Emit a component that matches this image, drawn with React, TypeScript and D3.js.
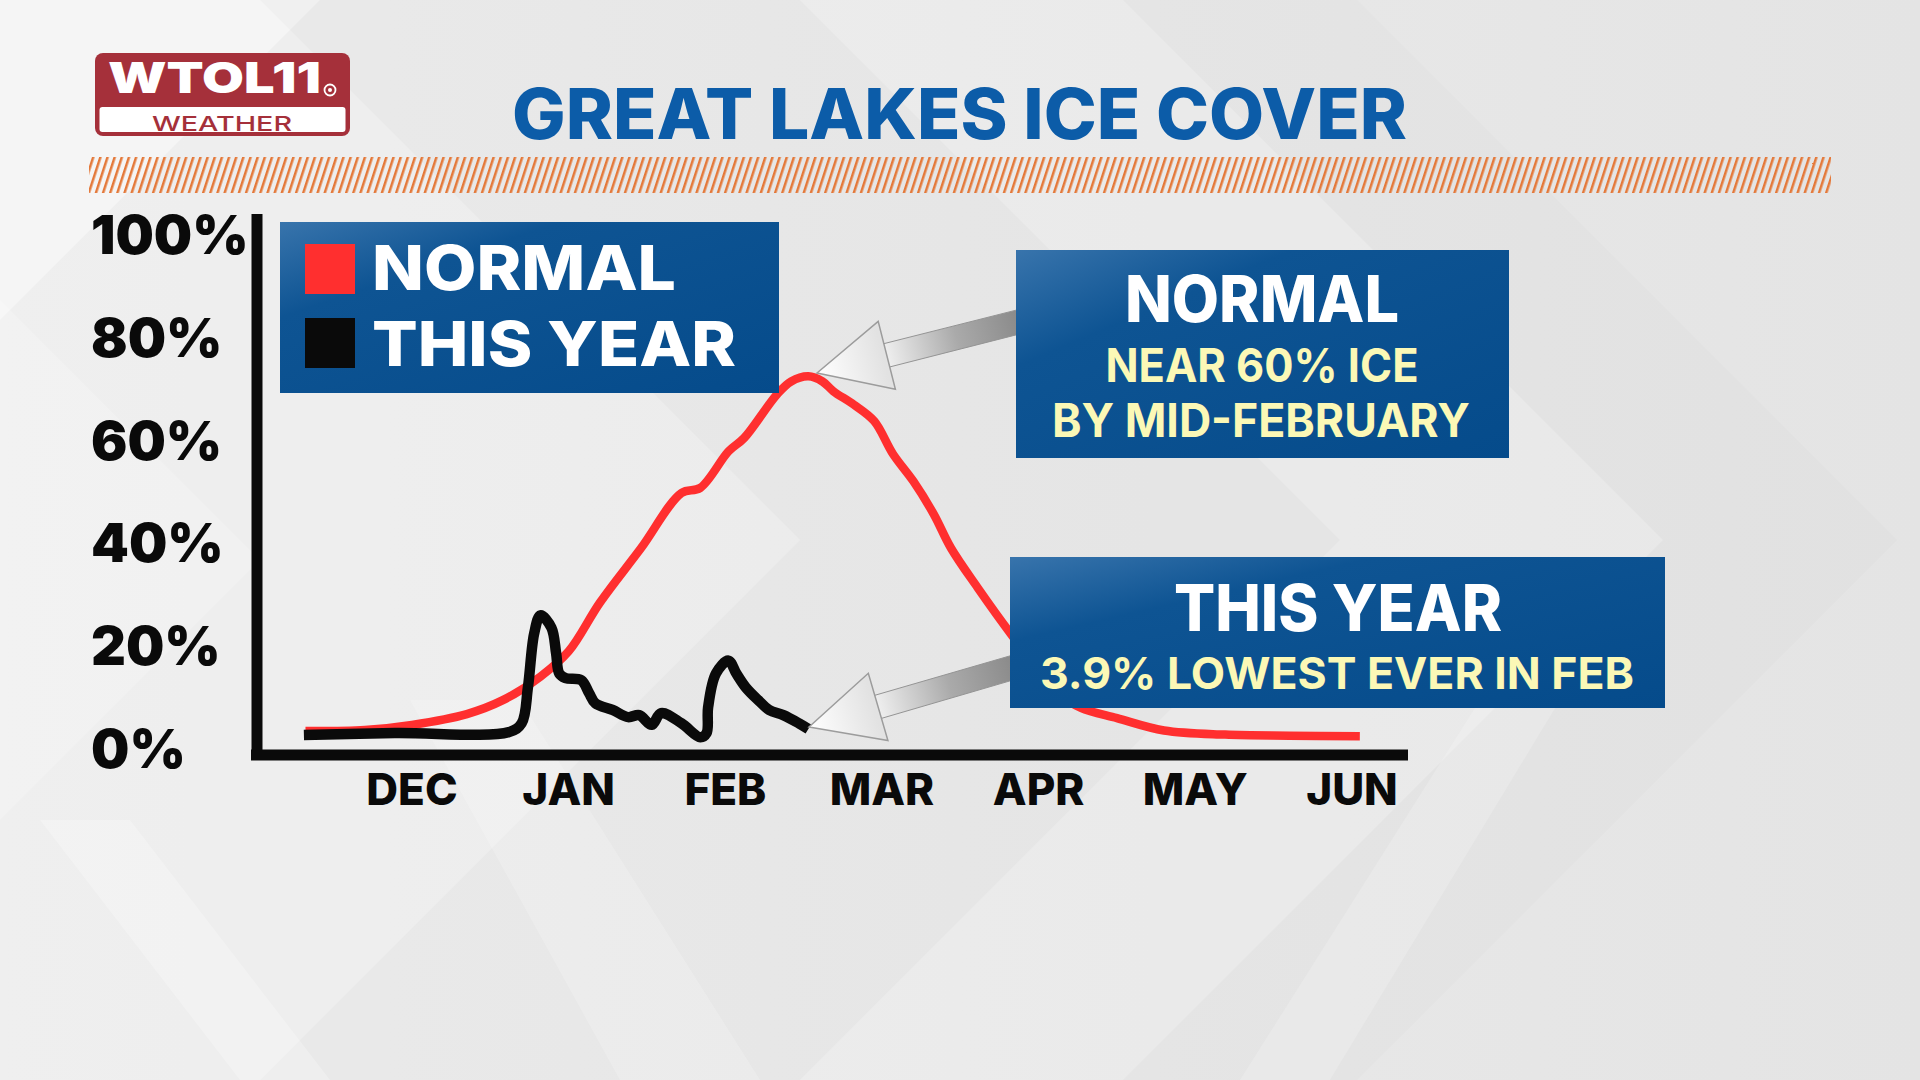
import React from "react";
import * as d3 from "d3";

// Month labels along the bottom (index 0 = DEC)
const MONTHS = ["DEC", "JAN", "FEB", "MAR", "APR", "MAY", "JUN"];
// Percent ticks on the left
const Y_TICKS = [0, 20, 40, 60, 80, 100];

// Normal ice cover: time in months from DEC, percent cover
const NORMAL_T = [-0.68, -0.3, 0, 0.35, 0.58, 0.82, 1.0, 1.2, 1.46, 1.72, 1.84, 2.02, 2.12, 2.33, 2.42, 2.53, 2.62, 2.69, 2.82, 2.95, 3.07, 3.2, 3.33, 3.44, 3.61, 3.82, 4.0, 4.14, 4.27, 4.5, 4.8, 5.19, 5.6, 6.05];
const NORMAL_PCT = [3.5, 3.7, 4.7, 6.8, 9.5, 14.1, 19, 28.5, 39, 49.8, 50.8, 57.9, 60.5, 69, 71.5, 72.5, 71.5, 69.6, 67, 63.8, 57.4, 52.1, 45.7, 39.1, 31.4, 22.5, 15.5, 10.5, 8, 6.0, 3.6, 2.8, 2.6, 2.5];

// This year's ice cover
const THIS_YEAR_T = [-0.69, -0.11, 0.62, 0.7, 0.74, 0.78, 0.82, 0.89, 0.92, 0.94, 0.98, 1.08, 1.13, 1.17, 1.28, 1.38, 1.45, 1.53, 1.59, 1.72, 1.84, 1.88, 1.89, 1.94, 2.02, 2.07, 2.13, 2.21, 2.28, 2.37, 2.47, 2.53];
const THIS_YEAR_PCT = [2.7, 3.1, 3.3, 5.0, 12.0, 22.5, 26.0, 23.6, 18.6, 14.7, 13.8, 13.4, 10.9, 8.9, 7.6, 6.2, 6.6, 4.7, 7.0, 5.0, 2.3, 3.1, 8.1, 14.7, 17.2, 14.7, 12.0, 9.5, 7.6, 6.6, 5.0, 3.9];

const LEGEND = [
  { label: "NORMAL", color: "#ff2f2f" },
  { label: "THIS YEAR", color: "#0a0a0a" },
];

const FONT = "Inter, 'Open Sans', sans-serif";

const x = d3.scaleLinear().domain([0, 6]).range([412, 1352]);
const y = d3.scaleLinear().domain([0, 100]).range([749, 235]);

const normal = NORMAL_T.map((t, i) => ({ t, v: NORMAL_PCT[i] }));
const thisYear = THIS_YEAR_T.map((t, i) => ({ t, v: THIS_YEAR_PCT[i] }));

const line = d3
  .line<{ t: number; v: number }>()
  .x((d) => x(d.t))
  .y((d) => y(d.v))
  .curve(d3.curveCatmullRom.alpha(0.5));

type Pt = [number, number];

function arrowParts(tip: Pt, tail: Pt, headLen: number, headHalf: number, shaftHalf: number) {
  const dx = tail[0] - tip[0];
  const dy = tail[1] - tip[1];
  const len = Math.hypot(dx, dy);
  const u: Pt = [dx / len, dy / len];
  const n: Pt = [-u[1], u[0]];
  const base: Pt = [tip[0] + u[0] * headLen, tip[1] + u[1] * headLen];
  const p = (o: Pt, a: number, b: number): Pt => [o[0] + n[0] * a + u[0] * b, o[1] + n[1] * a + u[1] * b];
  const head = [tip, p(base, headHalf, 4), p(base, -headHalf, 4)];
  const shaft = [p(base, shaftHalf, -2), p(tail, shaftHalf, 0), p(tail, -shaftHalf, 0), p(base, -shaftHalf, -2)];
  const toStr = (pts: Pt[]) => pts.map((q) => q.join(",")).join(" ");
  return { head: toStr(head), shaft: toStr(shaft), base };
}

const ARROWS = [
  { id: "a1", tip: [817, 373] as Pt, tail: [1030, 319] as Pt },
  { id: "a2", tip: [809, 727] as Pt, tail: [1025, 664] as Pt },
];

function Arrow({ id, tip, tail }: { id: string; tip: Pt; tail: Pt }) {
  const a = arrowParts(tip, tail, 68, 35, 12);
  return (
    <g>
      <defs>
        <linearGradient id={`${id}-shaft`} gradientUnits="userSpaceOnUse" x1={tail[0]} y1={tail[1]} x2={a.base[0]} y2={a.base[1]}>
          <stop offset="0" stopColor="#858585" />
          <stop offset="0.5" stopColor="#aaaaaa" />
          <stop offset="1" stopColor="#f2f2f2" />
        </linearGradient>
        <linearGradient id={`${id}-head`} gradientUnits="userSpaceOnUse" x1={tip[0]} y1={tip[1]} x2={a.base[0]} y2={a.base[1]}>
          <stop offset="0" stopColor="#ffffff" />
          <stop offset="1" stopColor="#e2e2e2" />
        </linearGradient>
      </defs>
      <polygon points={a.shaft} fill={`url(#${id}-shaft)`} stroke="#949494" strokeWidth={1} />
      <polygon points={a.head} fill={`url(#${id}-head)`} stroke="#9c9c9c" strokeWidth={1.5} strokeLinejoin="miter" />
    </g>
  );
}

function InfoBox({ x0, y0, w, h, id }: { x0: number; y0: number; w: number; h: number; id: string }) {
  return (
    <g>
      <defs>
        <linearGradient id={id} x1="0" y1="0" x2="1" y2="1">
          <stop offset="0" stopColor="#3874ac" />
          <stop offset="0.28" stopColor="#0e5493" />
          <stop offset="1" stopColor="#054b8b" />
        </linearGradient>
      </defs>
      <rect x={x0} y={y0} width={w} height={h} fill={`url(#${id})`} />
    </g>
  );
}

export default function App() {
  return (
    <svg
      width={1920}
      height={1080}
      viewBox="0 0 1920 1080"
      style={{ position: "absolute", left: 0, top: 0, display: "block" }}
      fontFamily={FONT}
    >
      <defs>
        <pattern id="hatch" width={6.8} height={10} patternUnits="userSpaceOnUse" patternTransform="rotate(18)">
          <rect x={0} y={0} width={2.5} height={10} fill="#e4793a" />
        </pattern>
        <linearGradient id="bg" x1="0" y1="0" x2="1" y2="0">
          <stop offset="0" stopColor="#ebebeb" />
          <stop offset="1" stopColor="#e1e1e1" />
        </linearGradient>
      </defs>

      {/* backdrop with soft chevron facets */}
      <rect x={0} y={0} width={1920} height={1080} fill="url(#bg)" />
      <polygon points="0,0 1123,0 1663,540 1123,1080 0,1080" fill="#ffffff" opacity={0.22} />
      <polygon points="1357,0 1920,0 1920,1080 1357,1080 1897,540" fill="#ffffff" opacity={0.12} />
      <polygon points="0,0 320,0 0,320" fill="#ffffff" opacity={0.4} />
      <polygon points="0,300 260,560 0,820" fill="#ffffff" opacity={0.2} />
      <polygon points="260,0 800,0 1340,540 800,1080 260,1080 800,540" fill="#000000" opacity={0.018} />
      <polygon points="40,820 130,820 330,1080 240,1080" fill="#ffffff" opacity={0.25} />
      <polygon points="410,700 520,700 760,1080 620,1080" fill="#ffffff" opacity={0.2} />
      <polygon points="1480,700 1560,700 1330,1080 1240,1080" fill="#ffffff" opacity={0.18} />

      {/* logo */}
      <g>
        <rect x={95} y={53} width={255} height={83} rx={8} fill="#a5303a" />
        <rect x={99.5} y={107} width={246} height={25} rx={3} fill="#ffffff" />
        <text x={108} y={93} fontSize={42} fontWeight={900} fill="#ffffff" textLength={213} lengthAdjust="spacingAndGlyphs">
          WTOL11
        </text>
        <circle cx={330} cy={90} r={5.5} fill="none" stroke="#ffffff" strokeWidth={1.8} />
        <circle cx={330} cy={90} r={2} fill="#ffffff" />
        <text x={222} y={131} fontSize={20} fontWeight={500} fill="#a5303a" textAnchor="middle" textLength={140} lengthAdjust="spacingAndGlyphs">
          WEATHER
        </text>
      </g>

      {/* title */}
      <text x={512} y={139} fontSize={70} fontWeight={800} fill="#0c5ca8" textLength={895} lengthAdjust="spacingAndGlyphs">
        GREAT LAKES ICE COVER
      </text>

      {/* hatched rule */}
      <rect x={89} y={157} width={1742} height={36} fill="url(#hatch)" />

      {/* y tick labels */}
      {Y_TICKS.map((v) => (
        <text key={v} x={91} y={y(v) + 19} fontSize={54} fontWeight={900} fill="#0a0a0a">
          {`${v}%`}
        </text>
      ))}

      {/* x tick labels */}
      {MONTHS.map((m, i) => (
        <text key={m} x={x(i)} y={805} fontSize={44} fontWeight={800} fill="#0a0a0a" textAnchor="middle">
          {m}
        </text>
      ))}

      {/* axes */}
      <line x1={257} y1={214} x2={257} y2={760} stroke="#0a0a0a" strokeWidth={11} />
      <line x1={251} y1={755} x2={1408} y2={755} stroke="#0a0a0a" strokeWidth={11} />

      {/* series */}
      <path d={line(normal) || ""} fill="none" stroke="#ff2f2f" strokeWidth={8.5} strokeLinejoin="round" strokeLinecap="butt" />
      <path d={line(thisYear) || ""} fill="none" stroke="#0a0a0a" strokeWidth={10.5} strokeLinejoin="round" strokeLinecap="butt" />

      {/* callout arrows */}
      {ARROWS.map((a) => (
        <Arrow key={a.id} id={a.id} tip={a.tip} tail={a.tail} />
      ))}

      {/* legend */}
      <InfoBox x0={280} y0={222} w={499} h={171} id="legendFill" />
      {LEGEND.map((d, i) => (
        <g key={d.label}>
          <rect x={305} y={244 + i * 74} width={50} height={50} fill={d.color} />
          <text
            x={372}
            y={290 + i * 76}
            fontSize={62}
            fontWeight={800}
            fill="#ffffff"
            textLength={i === 0 ? 304 : 364}
            lengthAdjust="spacingAndGlyphs"
          >
            {d.label}
          </text>
        </g>
      ))}

      {/* normal callout */}
      <InfoBox x0={1016} y0={250} w={493} h={208} id="box1Fill" />
      <text x={1262} y={322} fontSize={64} fontWeight={800} fill="#ffffff" textAnchor="middle" textLength={274} lengthAdjust="spacingAndGlyphs">
        NORMAL
      </text>
      <text x={1262} y={382} fontSize={46} fontWeight={700} fill="#fbf8b6" textAnchor="middle" textLength={313} lengthAdjust="spacingAndGlyphs">
        NEAR 60% ICE
      </text>
      <text x={1261} y={437} fontSize={46} fontWeight={700} fill="#fbf8b6" textAnchor="middle" textLength={418} lengthAdjust="spacingAndGlyphs">
        BY MID-FEBRUARY
      </text>

      {/* this year callout */}
      <InfoBox x0={1010} y0={557} w={655} h={151} id="box2Fill" />
      <text x={1338} y={631} fontSize={64} fontWeight={800} fill="#ffffff" textAnchor="middle" textLength={328} lengthAdjust="spacingAndGlyphs">
        THIS YEAR
      </text>
      <text x={1337} y={689} fontSize={44} fontWeight={700} fill="#fbf8b6" textAnchor="middle" textLength={594} lengthAdjust="spacingAndGlyphs">
        3.9% LOWEST EVER IN FEB
      </text>
    </svg>
  );
}
